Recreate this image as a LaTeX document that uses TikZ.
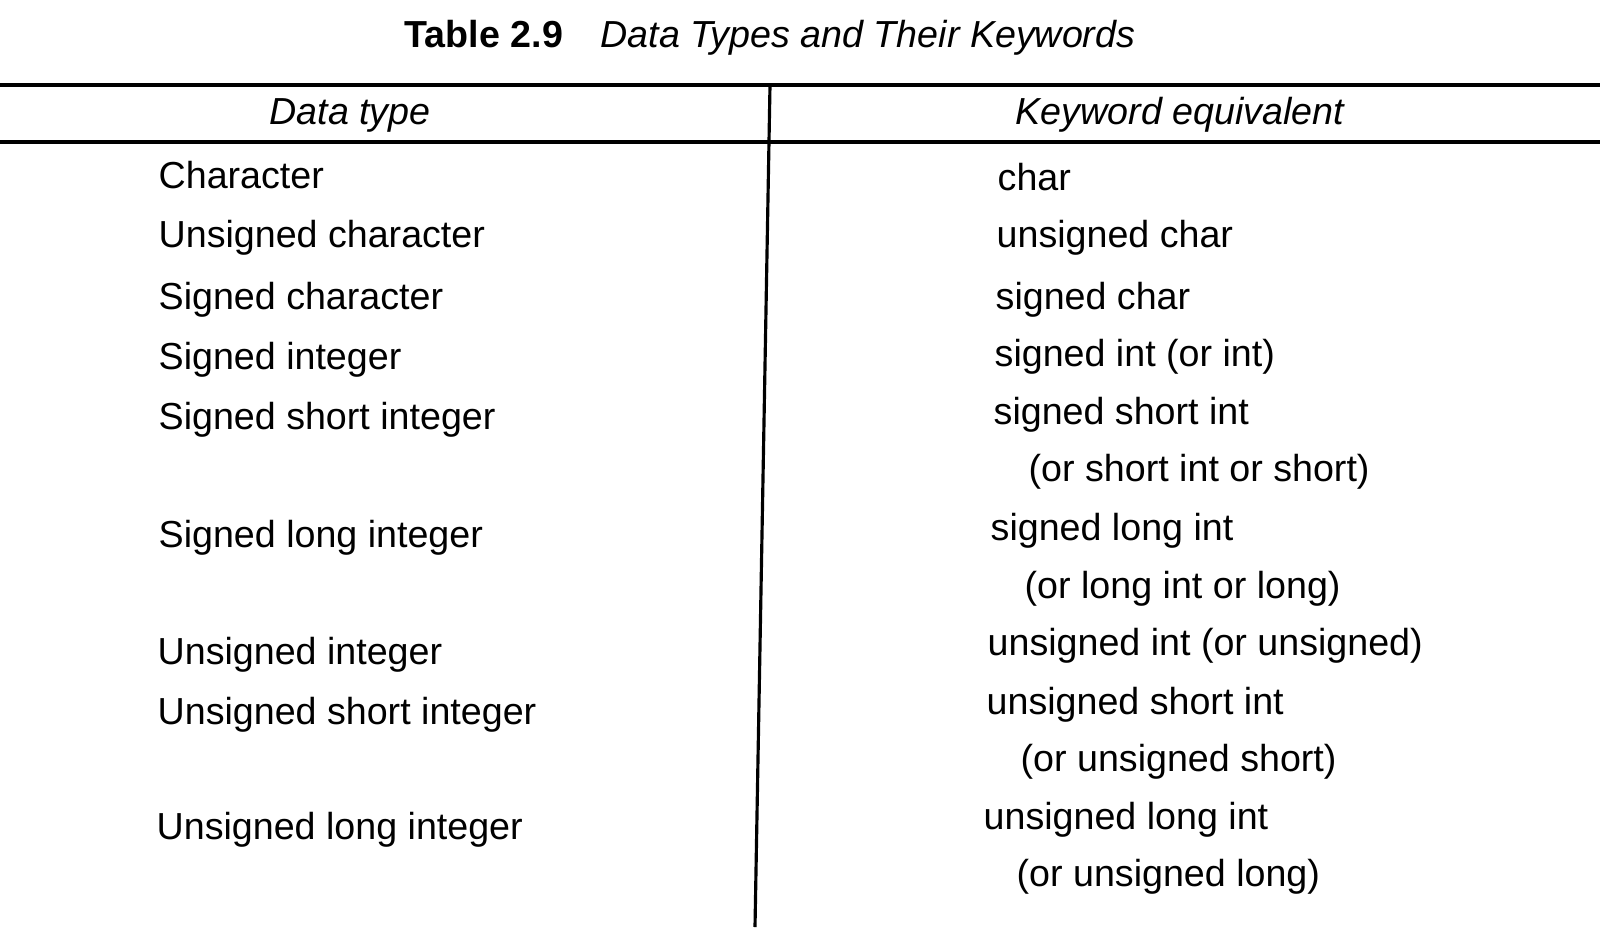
\documentclass[tikz,border=0pt]{standalone}
\usepackage{fontspec}
\setmainfont{Liberation Sans}
\begin{document}
\begin{tikzpicture}[x=0.01cm,y=-0.01cm,
  cell/.style={anchor=west,inner sep=0pt,font=\fontsize{10.7}{13}\selectfont},
  hd/.style={anchor=center,inner sep=0pt,font=\fontsize{10.7}{13}\selectfont\itshape},
  rule/.style={line width=0.9pt}]
\useasboundingbox (0,0) rectangle (1600,927);
\node[anchor=center,inner sep=0pt,font=\fontsize{10.7}{13}\selectfont] (title) at (770,38) {\textbf{Table 2.9}\quad\textit{Data Types and Their Keywords}};
\coordinate (tl) at (0,85); \coordinate (tr) at (1600,85);
\coordinate (hl) at (0,142); \coordinate (hr) at (1600,142);
\coordinate (vt) at (770,85); \coordinate (vb) at (755,927);
\draw[rule] (tl) -- (tr);
\draw[rule] (hl) -- (hr);
\draw[rule] (vt) -- (vb);
\node[hd] (h1) at (350,115) {Data type};
\node[hd] (h2) at (1180,115) {Keyword equivalent};
\node[cell] (l1) at (158,175) {Character};
\node[cell] (l2) at (158,238) {Unsigned character};
\node[cell] (l3) at (158,300) {Signed character};
\node[cell] (l4) at (158,360) {Signed integer};
\node[cell] (l5) at (158,420) {Signed short integer};
\node[cell] (l6) at (158,538) {Signed long integer};
\node[cell] (l7) at (157,655) {Unsigned integer};
\node[cell] (l8) at (157,715) {Unsigned short integer};
\node[cell] (l9) at (156,830) {Unsigned long integer};
\node[cell] (r1) at (997,177) {char};
\node[cell] (r2) at (996,238) {unsigned char};
\node[cell] (r3) at (995,300) {signed char};
\node[cell] (r4) at (994,357) {signed int (or int)};
\node[cell] (r5) at (993,415) {signed short int};
\node[cell] (r5b) at (1028,472) {(or short int or short)};
\node[cell] (r6) at (990,531) {signed long int};
\node[cell] (r6b) at (1024,589) {(or long int or long)};
\node[cell] (r7) at (987,646) {unsigned int (or unsigned)};
\node[cell] (r8) at (986,705) {unsigned short int};
\node[cell] (r8b) at (1020,762) {(or unsigned short)};
\node[cell] (r9) at (983,820) {unsigned long int};
\node[cell] (r9b) at (1016,877) {(or unsigned long)};
\end{tikzpicture}
\end{document}
